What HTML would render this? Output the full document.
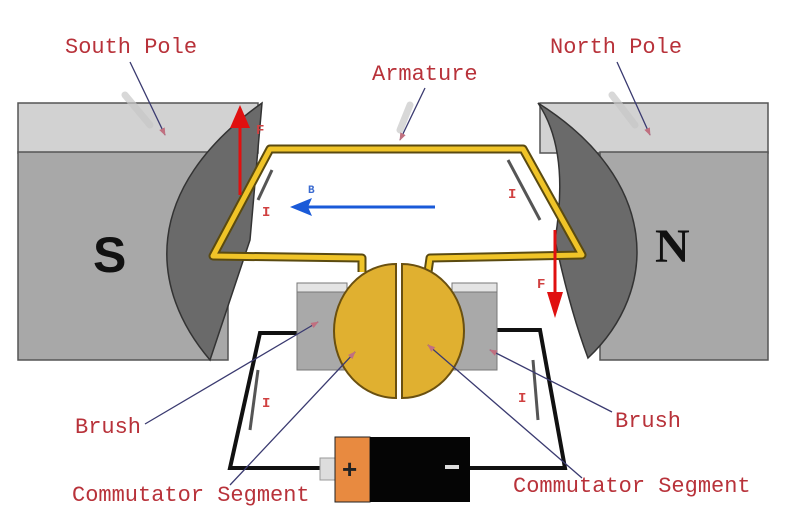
<!DOCTYPE html>
<html><head><meta charset="utf-8"><style>
html,body{margin:0;padding:0;background:#fff;}
svg{display:block;}
.l{font-family:"Liberation Mono",monospace;font-size:22px;fill:#b8323a;}
.s{font-family:"Liberation Mono",monospace;font-size:14px;fill:#d04040;font-weight:bold;}
</style></head><body>
<svg width="788" height="522" viewBox="0 0 788 522" xmlns="http://www.w3.org/2000/svg">
<defs>
<marker id="pa" markerWidth="8" markerHeight="8" refX="7" refY="4" orient="auto" markerUnits="userSpaceOnUse"><path d="M0,1 L8,4 L0,7 z" fill="#c07080"/></marker>
</defs>
<rect x="18" y="103" width="240" height="50" fill="#d2d2d2" stroke="#555" stroke-width="1.5"/>
<rect x="18" y="152" width="210" height="208" fill="#a8a8a8" stroke="#555" stroke-width="1.5"/>
<path d="M262,103 L250,240 L210,360 C150,290 140,190 262,103 Z" fill="#6a6a6a" stroke="#333" stroke-width="1.5"/>
<text x="93" y="272" font-family="Liberation Sans,sans-serif" font-weight="bold" font-size="50" fill="#111">S</text>
<rect x="540" y="103" width="228" height="50" fill="#d2d2d2" stroke="#555" stroke-width="1.5"/>
<rect x="600" y="152" width="168" height="208" fill="#a8a8a8" stroke="#555" stroke-width="1.5"/>
<path d="M538,103 Q570,150 555,240 Q570,310 588,358 C660,290 660,180 538,103 Z" fill="#6a6a6a" stroke="#333" stroke-width="1.5"/>
<text x="655" y="262" font-family="Liberation Serif,serif" font-weight="bold" font-size="48" fill="#111">N</text>
<path d="M345,333 L260,333 L230,468 L322,468 M470,468 L565,468 L540,330 L497,330" fill="none" stroke="#111" stroke-width="4"/>
<rect x="297" y="283" width="50" height="10" fill="#e4e4e4" stroke="#777"/>
<rect x="297" y="292" width="50" height="78" fill="#a9a9a9" stroke="#777"/>
<rect x="452" y="283" width="45" height="10" fill="#e4e4e4" stroke="#777"/>
<rect x="452" y="292" width="45" height="78" fill="#a9a9a9" stroke="#777"/>
<path d="M362,272 L362,258 L213,256 L270,149 L523,149 L582,255 L430,258 L428,272" fill="none" stroke="#5a4a10" stroke-width="9" stroke-linejoin="round"/>
<path d="M362,272 L362,258 L213,256 L270,149 L523,149 L582,255 L430,258 L428,272" fill="none" stroke="#f0c428" stroke-width="5" stroke-linejoin="round"/>
<path d="M396,264 A62,67 0 0 0 396,398 Z" fill="#e0b030" stroke="#6a5010" stroke-width="2"/>
<path d="M402,264 A62,67 0 0 1 402,398 Z" fill="#e0b030" stroke="#6a5010" stroke-width="2"/>
<rect x="320" y="458" width="16" height="22" fill="#ddd" stroke="#999"/>
<rect x="335" y="437" width="35" height="65" fill="#e88a40" stroke="#222"/>
<rect x="370" y="437" width="100" height="65" fill="#050505"/>
<text x="342" y="478" font-family="Liberation Sans,sans-serif" font-size="26" font-weight="bold" fill="#222">+</text>
<rect x="445" y="465" width="14" height="4" fill="#ddd"/>
<line x1="240" y1="195" x2="240" y2="122" stroke="#e01010" stroke-width="3"/>
<path d="M230,128 L240,105 L250,128 Z" fill="#e01010"/>
<text x="256" y="134" class="s" font-size="12">F</text>
<line x1="555" y1="230" x2="555" y2="298" stroke="#e01010" stroke-width="3"/>
<path d="M547,292 L555,318 L563,292 Z" fill="#e01010"/>
<text x="537" y="288" class="s" font-size="12">F</text>
<line x1="435" y1="207" x2="305" y2="207" stroke="#1a5ad8" stroke-width="3"/>
<path d="M290,207 L312,198 L308,207 L312,216 Z" fill="#1a5ad8"/>
<text x="308" y="193" font-family="Liberation Mono,monospace" font-size="11" font-weight="bold" fill="#3a6ad0">B</text>
<line x1="258" y1="200" x2="272" y2="170" stroke="#555" stroke-width="3"/>
<text x="262" y="216" class="s">I</text>
<line x1="508" y1="160" x2="540" y2="220" stroke="#555" stroke-width="3"/>
<text x="508" y="198" class="s">I</text>
<line x1="250" y1="430" x2="258" y2="370" stroke="#555" stroke-width="3"/>
<text x="262" y="407" class="s">I</text>
<line x1="533" y1="360" x2="538" y2="420" stroke="#555" stroke-width="3"/>
<text x="518" y="402" class="s">I</text>
<g stroke="#c8c8c8" stroke-width="7" opacity="0.7" stroke-linecap="round">
<line x1="125" y1="95" x2="150" y2="125"/><line x1="612" y1="95" x2="635" y2="125"/>
<line x1="410" y1="105" x2="400" y2="130"/>
</g>
<g stroke="#3a3a70" stroke-width="1.3" fill="none">
<line x1="130" y1="62" x2="165" y2="135" marker-end="url(#pa)"/>
<line x1="617" y1="62" x2="650" y2="135" marker-end="url(#pa)"/>
<line x1="425" y1="88" x2="400" y2="140" marker-end="url(#pa)"/>
<line x1="145" y1="424" x2="318" y2="322" marker-end="url(#pa)"/>
<line x1="612" y1="412" x2="490" y2="350" marker-end="url(#pa)"/>
<line x1="230" y1="485" x2="355" y2="352" marker-end="url(#pa)"/>
<line x1="582" y1="478" x2="428" y2="345" marker-end="url(#pa)"/>
</g>
<text x="65" y="53" class="l">South Pole</text>
<text x="550" y="53" class="l">North Pole</text>
<text x="372" y="80" class="l">Armature</text>
<text x="75" y="433" class="l">Brush</text>
<text x="615" y="427" class="l">Brush</text>
<text x="72" y="501" class="l">Commutator Segment</text>
<text x="513" y="492" class="l">Commutator Segment</text>
</svg>
</body></html>
